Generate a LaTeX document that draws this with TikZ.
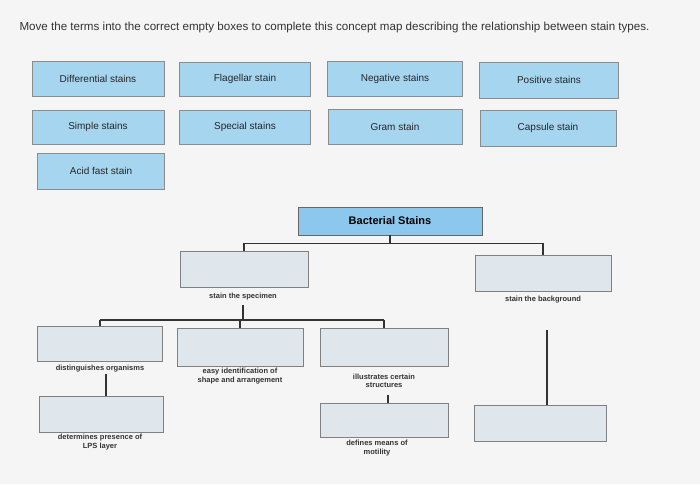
\documentclass[tikz,border=0pt]{standalone}
\usepackage{fontspec}
\setmainfont{Liberation Sans}
\definecolor{btnc}{HTML}{A6D5F0}
\definecolor{rootc}{HTML}{8CC8EE}
\definecolor{boxc}{HTML}{DFE6EC}
\begin{document}
\begin{tikzpicture}[x=1pt,y=-1pt,
 btn/.style={draw=black!45,fill=btnc,line width=0.6pt,font=\fontsize{10}{12}\selectfont,text=black!85},
 ebox/.style={draw=black!50,fill=boxc,line width=0.6pt},
 lbl/.style={font=\bfseries\fontsize{7.5}{8.5}\selectfont,align=center,text=black!80,inner sep=0pt},
 ln/.style={draw=black!80,line width=1.4pt}]
\fill[gray!8] (0,0) rectangle (700,484);
\useasboundingbox (0,0) rectangle (700,484);
\node[anchor=west,font=\fontsize{11.6}{13}\selectfont,text=black!80] (t) at (16,28) {Move the terms into the correct empty boxes to complete this concept map describing the relationship between stain types.};
\node[btn,minimum width=132,minimum height=35] (b1) at (98,79) {Differential stains};
\node[btn,minimum width=131,minimum height=34] (b2) at (245,79) {Flagellar stain};
\node[btn,minimum width=135,minimum height=35] (b3) at (395,79) {Negative stains};
\node[btn,minimum width=139,minimum height=36] (b4) at (549,80) {Positive stains};
\node[btn,minimum width=132,minimum height=34] (b5) at (98,127) {Simple stains};
\node[btn,minimum width=131,minimum height=34] (b6) at (245,127) {Special stains};
\node[btn,minimum width=134,minimum height=35] (b7) at (395,127) {Gram stain};
\node[btn,minimum width=136,minimum height=36] (b8) at (548,128) {Capsule stain};
\node[btn,minimum width=127,minimum height=36] (b9) at (101,171) {Acid fast stain};
\node[draw=black!60,fill=rootc,line width=0.8pt,minimum width=184,minimum height=28,font=\bfseries\fontsize{11}{13}\selectfont] (root) at (390,221) {Bacterial Stains};
\node[ebox,minimum width=128,minimum height=36] (s) at (244,269) {};
\node[ebox,minimum width=136,minimum height=36] (g) at (543,273) {};
\node[lbl] (sl) at (243,297) {stain the specimen};
\node[lbl] (gl) at (543,300) {stain the background};
\node[ebox,minimum width=125,minimum height=35] (d) at (100,344) {};
\node[ebox,minimum width=126,minimum height=38] (e) at (240,347) {};
\node[ebox,minimum width=128,minimum height=38] (i) at (384,347) {};
\node[lbl] (dl) at (100,369) {distinguishes organisms};
\node[lbl] (el) at (240,376) {easy identification of\\shape and arrangement};
\node[lbl] (il) at (384,381) {illustrates certain\\structures};
\node[ebox,minimum width=124,minimum height=36] (p) at (101,414) {};
\node[ebox,minimum width=128,minimum height=34] (m) at (384,420) {};
\node[ebox,minimum width=132,minimum height=36] (n) at (540,423) {};
\node[lbl] (pl) at (100,442) {determines presence of\\LPS layer};
\node[lbl] (ml) at (377,448) {defines means of\\motility};
\draw[ln] (root.south) -- ++(0,8) coordinate (r1);
\draw[ln] (r1 -| s.north) -- (r1 -| g.north);
\draw[ln] (r1 -| s.north) -- (s.north);
\draw[ln] (r1 -| g.north) -- (g.north);
\draw[ln] (243,305) -- (243,320) coordinate (c1);
\draw[ln] (c1 -| d.north) -- (c1 -| i.north);
\draw[ln] (c1 -| d.north) -- (d.north);
\draw[ln] (c1 -| e.north) -- (e.north);
\draw[ln] (c1 -| i.north) -- (i.north);
\draw[ln,line width=1.1pt] (106,374) -- (106,396);
\draw[ln,line width=1.1pt] (388,395) -- (388,403);
\coordinate (nt) at (547,330);
\draw[ln,line width=1.1pt] (nt) -- (nt |- n.north);
\end{tikzpicture}
\end{document}
